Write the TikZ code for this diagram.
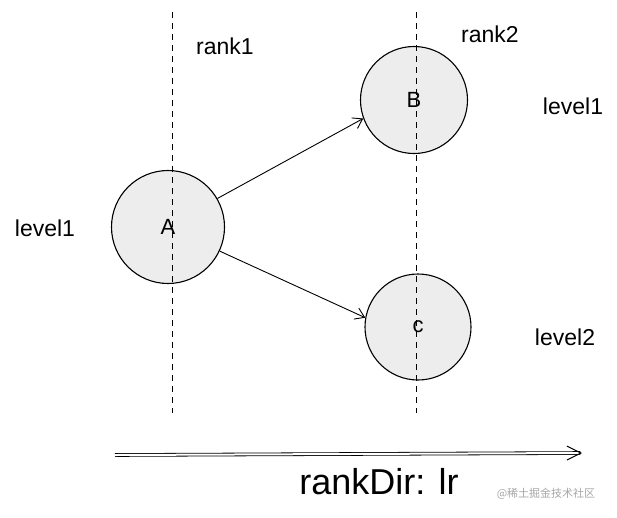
\documentclass[tikz,border=0pt]{standalone}
\usepackage{fontspec}
\setmainfont{Liberation Sans}
\newfontfamily\cjk{Noto Sans CJK SC}
\usetikzlibrary{arrows.meta}
\begin{document}
\begin{tikzpicture}[x=1pt,y=-1pt,
  rankline/.style={dashed, dash pattern=on 6pt off 5pt, line width=0.9pt},
  ball/.style={circle, draw, line width=1.1pt, fill=black!7, minimum size=#1, inner sep=0pt, font=\fontsize{22}{22}\selectfont},
  conn/.style={line width=0.9pt, -{Straight Barb[length=9pt,width=12pt]}},
  lbl/.style={font=\fontsize{23}{24}\selectfont}]
\useasboundingbox (0,0) rectangle (617,517);
\node[ball=113pt] (A) at (168,227) {A};
\node[ball=107pt] (B) at (414,100) {B};
\node[ball=106pt] (C) at (418,327) {c};
\coordinate (r1t) at (172,12);
\coordinate (r1b) at (172,413);
\coordinate (r2t) at (416,12);
\coordinate (r2b) at (416,413);
\draw[rankline] (r1t) -- (r1b);
\draw[rankline] (r2t) -- (r2b);
\draw[conn] (A.30) -- (B.200);
\draw[conn] (A.-25) -- (C.170);
\node[lbl] (rk1) at (225,46) {rank1};
\node[lbl] (rk2) at (490,34) {rank2};
\node[lbl] (lvB) at (573,106) {level1};
\node[lbl] (lvA) at (45,228) {level1};
\node[lbl] (lvC) at (565,337) {level2};
\coordinate (ds) at (115,455);
\coordinate (de) at (582,453);
\draw[line width=0.8pt, double distance=2pt, -{Straight Barb[length=14pt,width=14pt,line width=1pt]}] (ds) -- (de);
\node[font=\fontsize{36}{38}\selectfont] (dir) at (379,482) {rankDir: lr};
\node[text=black!35, font=\cjk\fontsize{11}{12}\selectfont] (wm) at (546,494) {@稀土掘金技术社区};
\end{tikzpicture}
\end{document}
